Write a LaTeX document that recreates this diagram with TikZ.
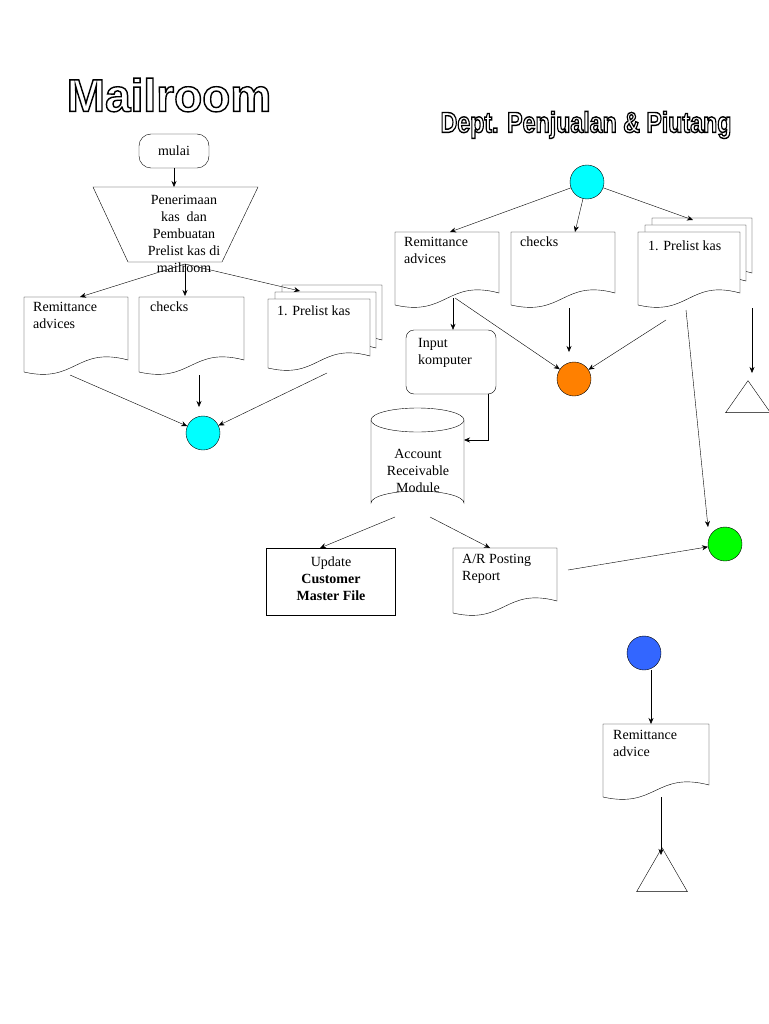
\documentclass[tikz,border=0pt]{standalone}
\usepackage{fontspec}
\setmainfont{Liberation Serif}
\newfontfamily\titlefont{Liberation Sans}
\usetikzlibrary{shapes.geometric,arrows.meta}
\newcommand\docshape[5]{% name, x1,y1,x2,y2
  \draw[fill=white] (#2,#5) -- (#2,#3) -- (#4,#3) -- (#4,#5-12)
    .. controls ({#2+0.5*(#4-#2)},{#5-26}) and ({#2+0.5*(#4-#2)},{#5+12}) .. (#2,#5);
  \coordinate (#1) at ({0.5*(#2+#4)},{0.5*(#3+#5)});}
\newcommand\outlinetext[1]{\special{pdf:literal direct 1 Tr 1.4 w}#1\special{pdf:literal direct 0 Tr}}
\definecolor{cyanc}{RGB}{0,255,255}
\begin{document}
\begin{tikzpicture}[x=1pt,y=-1pt,
  arr/.style={-{Stealth[length=6pt,width=5pt]},thin},
  lbl/.style={font=\fontsize{14}{17}\selectfont,align=left,anchor=north west,inner sep=0pt},
  circ/.style={circle,draw,minimum size=34pt,inner sep=0pt},
  tri/.style={draw,isosceles triangle,shape border rotate=90,isosceles triangle apex angle=70,minimum height=32pt,minimum width=36pt,inner sep=0pt}]
\useasboundingbox (0,0) rectangle (768,1024);
% titles
\node[font=\titlefont\bfseries\fontsize{46}{48}\selectfont] (t1) at (169,95) {\outlinetext{Mailroom}};
\node[font=\titlefont\bfseries\fontsize{29}{30}\selectfont,xscale=0.8] (t2) at (586,125) {\outlinetext{Dept. Penjualan \& Piutang}};
% left
\node[draw,rounded corners=12pt,minimum width=70pt,minimum height=34pt,font=\fontsize{14}{14}\selectfont] (mulai) at (174,151) {mulai};
\draw (93,187) -- (258,187) -- (222,262) -- (128,262) -- cycle;
\coordinate (trap) at (185,264);
\node[font=\fontsize{14}{17}\selectfont,align=center,anchor=north] (traptext) at (184,192) {Penerimaan\\kas\ \ dan\\Pembuatan\\Prelist kas di\\mailroom};
\draw[arr] (mulai) -- (174,187);
\docshape{d1}{24}{297}{128}{372}
\node[lbl] at (33,302) {Remittance\\advices};
\docshape{d2}{139}{297}{244}{372}
\node[lbl] at (150,302) {checks};
\docshape{d3b}{282}{285}{382}{352}
\docshape{d3a}{275}{292}{376}{360}
\docshape{d3}{268}{299}{370}{368}
\node[lbl] at (277,306) {1. Prelist kas};
\draw[arr] (trap) -- (80,297);
\draw[arr] (trap) -- (185,296);
\draw[arr] (trap) -- (300,291);
\node[circ,fill=cyanc] (c1) at (203,433) {};
\draw[arr] (70,375) -- (c1);
\draw[arr] (199,375) -- (199,407);
\draw[arr] (327,373) -- (c1);
% right
\node[circ,fill=cyanc] (c2) at (587,182) {};
\docshape{r1}{395}{232}{499}{305}
\node[lbl] at (404,237) {Remittance\\advices};
\docshape{r2}{511}{232}{615}{305}
\node[lbl] at (520,237) {checks};
\docshape{r3b}{652}{218}{752}{285}
\docshape{r3a}{645}{225}{746}{293}
\docshape{r3}{638}{232}{740}{305}
\node[lbl] at (648,241) {1. Prelist kas};
\draw[arr] (c2) -- (450,232);
\draw[arr] (c2) -- (575,232);
\draw[arr] (c2) -- (693,220);
\node[draw,rounded corners=8pt,minimum width=90pt,minimum height=64pt] (inp) at (451,362) {};
\node[lbl] at (418,338) {Input\\komputer};
\draw[arr] (453,298) -- (inp.north -| 453,0);
\node[circ,fill=orange] (c3) at (574,379) {};
\draw[arr] (455,298) -- (c3);
\draw[arr] (569,308) -- (569,352);
\draw[arr] (666,320) -- (c3);
% cylinder
\draw[fill=white] (371,420) -- (371,503) arc[start angle=180,end angle=360,x radius=46.5,y radius=12] -- (464,420);
\draw[fill=white] (417.5,420) ellipse[x radius=46.5,y radius=12];
\coordinate (cyl) at (417,465);
\node[font=\fontsize{14}{17}\selectfont,align=center] (cyltext) at (418,471) {Account\\Receivable\\Module};
\draw[arr] (488,394) -- (488,440) -- (464,440);
\node[draw,thick,minimum width=129pt,minimum height=67pt] (upd) at (330.5,581.5) {};
\node[font=\fontsize{14}{17}\selectfont,align=center] at (331,579) {Update\\\textbf{Customer}\\\textbf{Master File}};
\docshape{ar}{453}{548}{557}{613}
\node[lbl] at (462,554) {A/R Posting\\Report};
\draw[arr] (395,517) -- (320,548);
\draw[arr] (430,517) -- (490,548);
\node[circ,fill=green] (c4) at (725,544) {};
\draw[arr] (568,570) -- (c4);
\draw[arr] (686,310) -- (708,527);
\draw[arr] (752,308) -- (752,373);
\node[tri] (tr1) at (748,401) {};
% bottom
\node[circ,fill={rgb,255:red,51;green,102;blue,255}] (c5) at (644,653) {};
\docshape{rb}{603}{724}{709}{797}
\node[lbl] at (613,730) {Remittance\\advice};
\draw[arr] (651,670) -- (651,724);
\draw[arr] (661,797) -- (661,855);
\node[tri,minimum height=44pt,minimum width=50pt,isosceles triangle apex angle=60] (tr2) at (662,877) {};
\end{tikzpicture}
\end{document}
